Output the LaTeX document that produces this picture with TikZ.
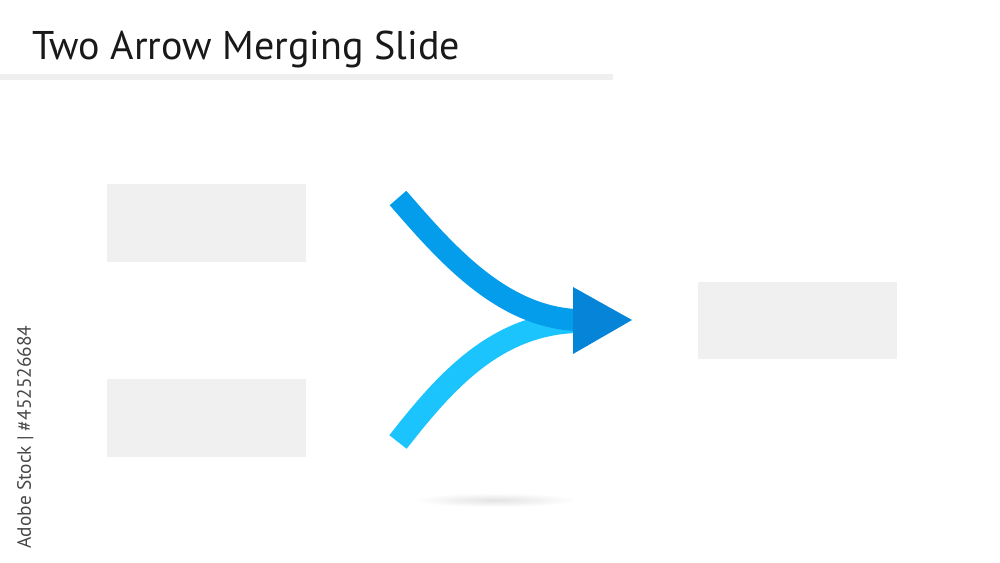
\documentclass[tikz,border=0pt]{standalone}
\usepackage{fontspec}
\setmainfont{PT Sans}
\usepackage{xcolor}
\usetikzlibrary{arrows.meta}
\usetikzlibrary{calc}

\definecolor{topblue}{HTML}{039DEB}
\definecolor{lightblue}{HTML}{1CC4FD}
\definecolor{headblue}{HTML}{0685D8}
\definecolor{boxgray}{HTML}{F0F0F0}
\definecolor{rulegray}{HTML}{EFEFEF}

\begin{document}
\begin{tikzpicture}[x=0.02cm, y=-0.02cm,
    textbox/.style={rectangle, fill=boxgray, inner sep=0pt, minimum width=3.98cm, minimum height=1.56cm},
    band/.style={line width=12.5pt}]
      \useasboundingbox (0, 0) rectangle (1000, 563);

      % title and rule
      \node[anchor=base west, inner sep=0pt, text=black!90, font=\fontsize{22.8}{27}\selectfont] (title) at (32, 60) {Two Arrow Merging Slide};
      \draw[rulegray, line width=3.4pt] (0, 77) -- (613, 77);

      % boxes
      \node[textbox] (leftboxa) at (206.5, 223) {};
      \node[textbox] (leftboxb) at (206.5, 418) {};
      \node[textbox] (rightbox) at (797.5, 320.5) {};

      % arrows
      \coordinate (topstart) at (398, 198);
      \coordinate (botstart) at (398, 442);
      \coordinate (merge) at (576, 320);

      \draw[band, lightblue] (botstart) .. controls (445, 382) and (495, 325) .. ($(merge)+(0, 2)$);
      \draw[band, topblue] (topstart) .. controls (445, 252) and (500, 316) .. (merge);
      \fill[headblue] ($(merge)+(-3, -33)$) -- ($(merge)+(56, 0)$) -- ($(merge)+(-3, 34)$) -- cycle;

      % shadow
      \shade[inner color=black!11, outer color=white] (495, 500) ellipse (82 and 7);

      \node[rotate=90, anchor=base, inner sep=0pt, text=black!72, font=\fontsize{11}{13}\selectfont] (stock) at (31, 437) {Adobe Stock | \#452526684};
    \end{tikzpicture}
\end{document}
